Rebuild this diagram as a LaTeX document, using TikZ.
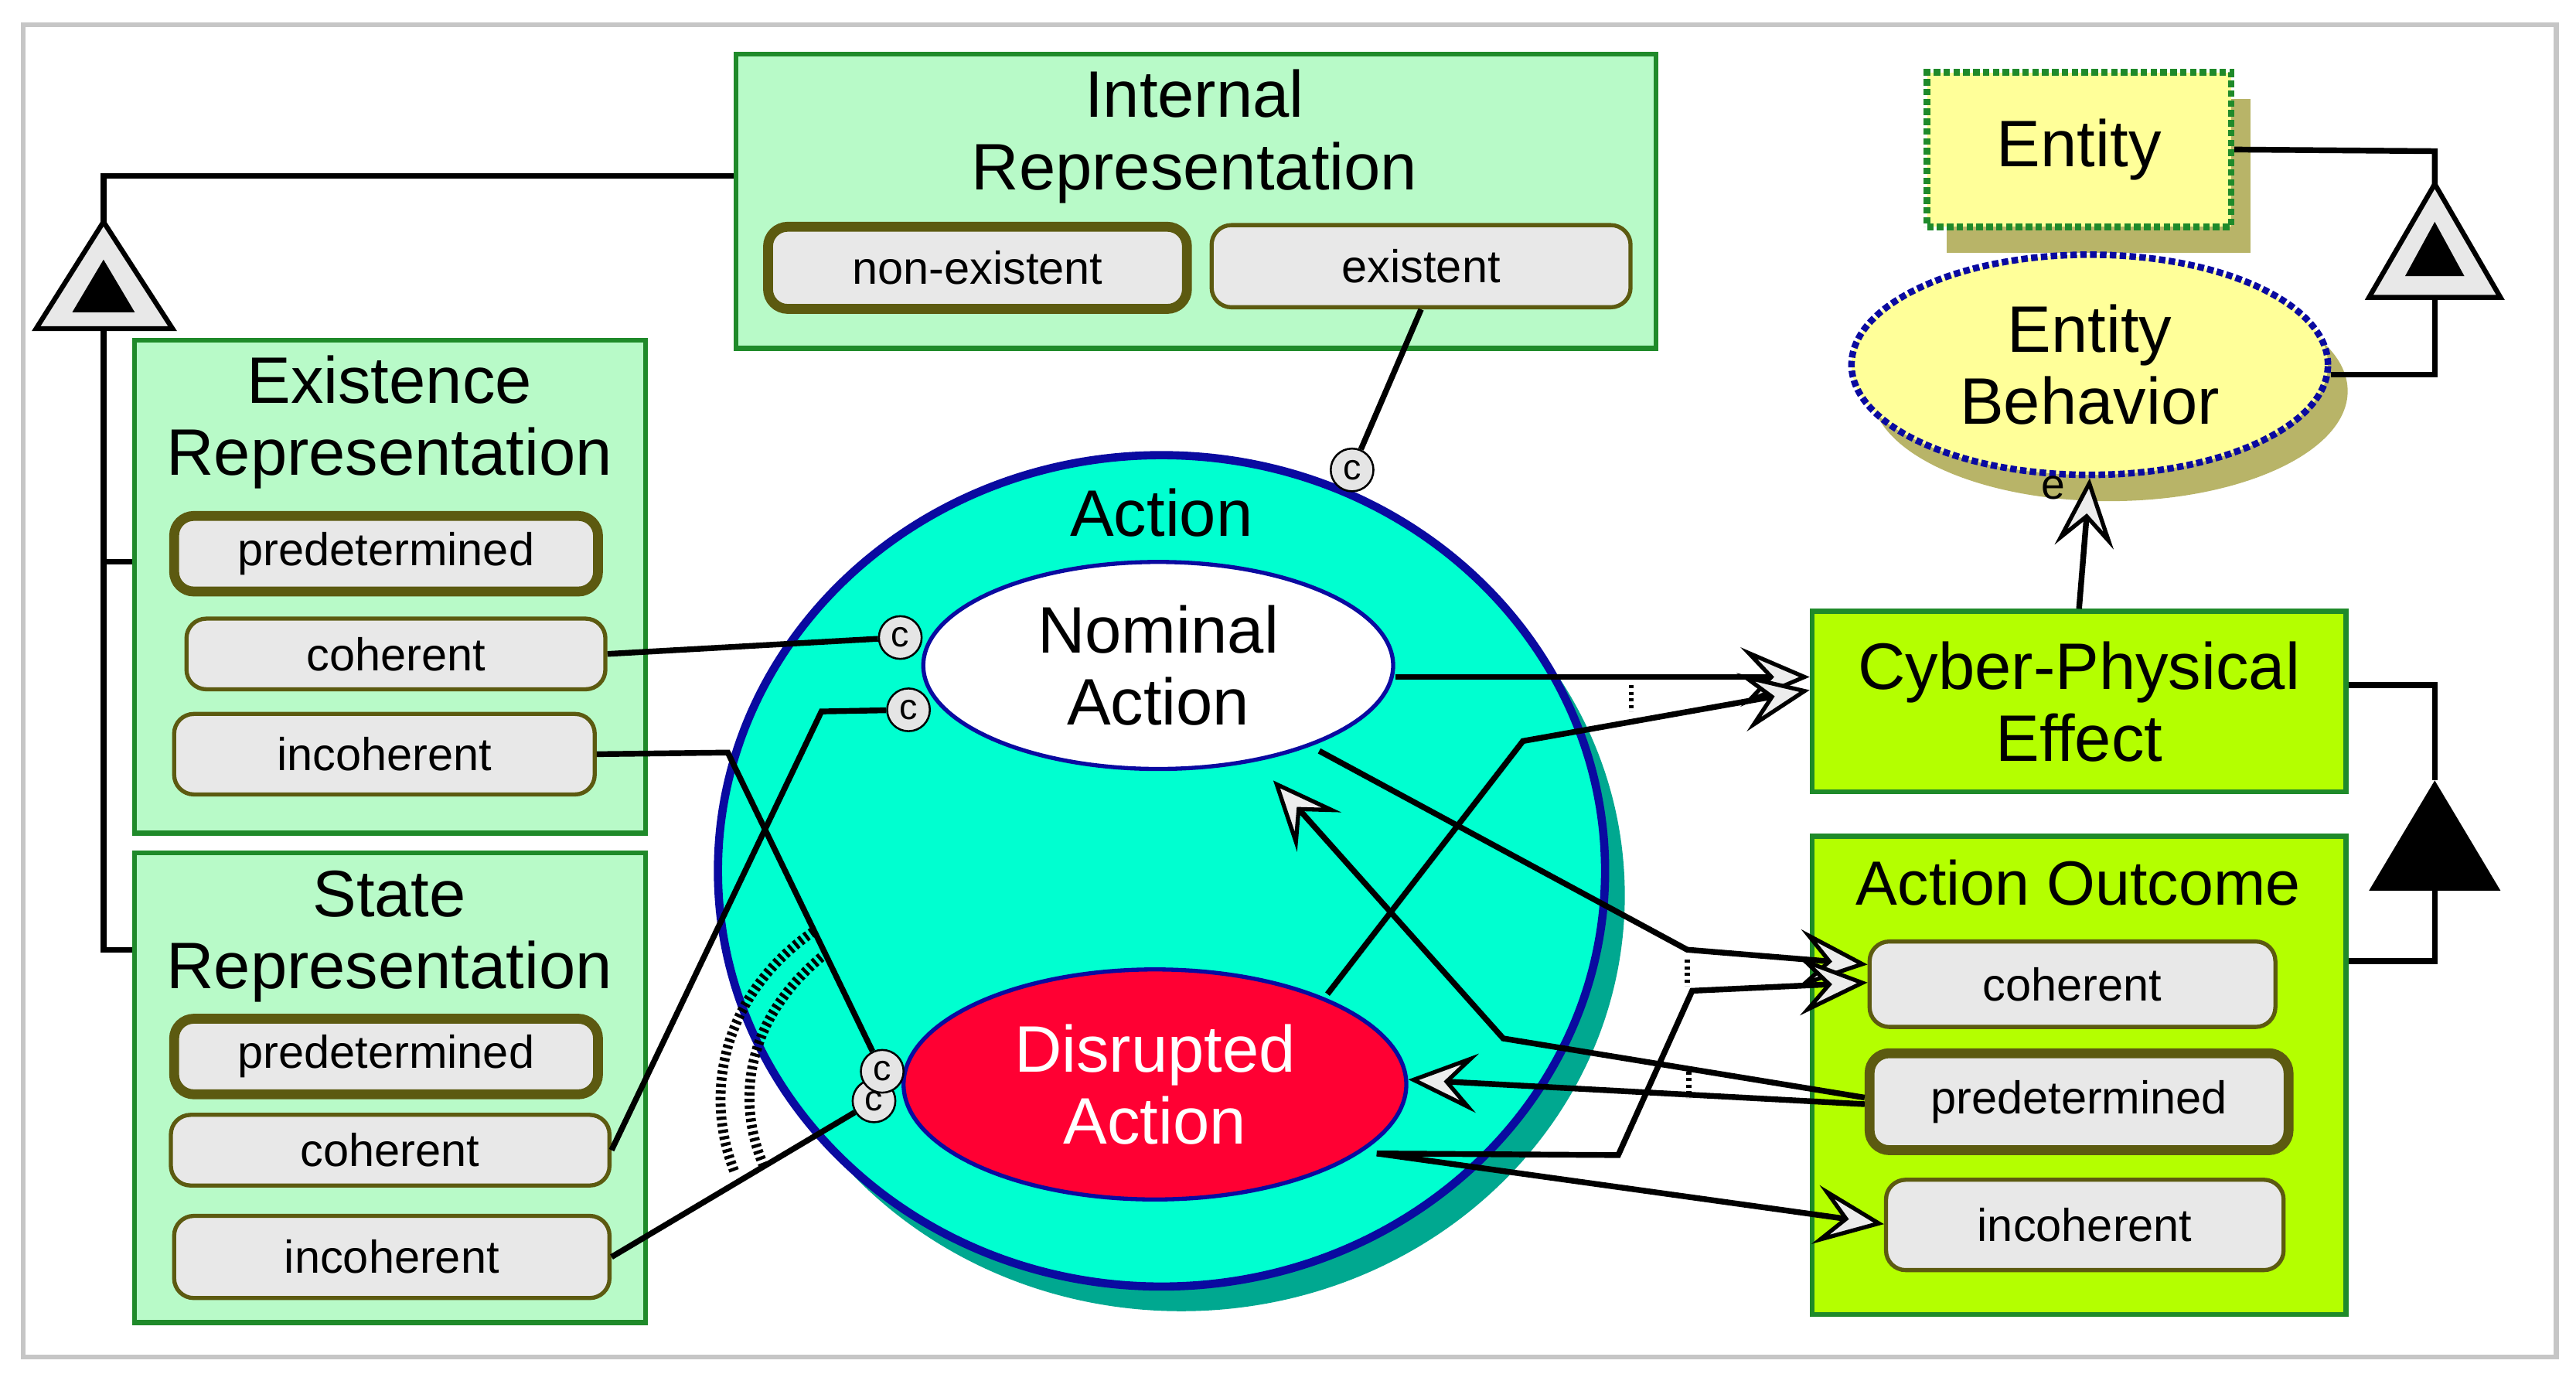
\documentclass[tikz,border=0pt]{standalone}
\usepackage{fontspec}
\setmainfont{Liberation Sans}
\usetikzlibrary{shapes,arrows.meta,calc,positioning}
\definecolor{boxgreen}{HTML}{B8FAC8}
\definecolor{lime}{HTML}{B4FF00}
\definecolor{dgreen}{HTML}{1F8A2A}
\definecolor{aqua}{HTML}{00FFD0}
\definecolor{teal2}{HTML}{00A890}
\definecolor{navy2}{HTML}{0A0AA0}
\definecolor{redact}{HTML}{FF0033}
\definecolor{pale}{HTML}{FFFF99}
\definecolor{olive2}{HTML}{B8B468}
\definecolor{pillbd}{HTML}{5C5A10}
\tikzset{
  box/.style={draw=dgreen, line width=3pt, fill=boxgreen, inner sep=0pt},
  title/.style={font=\fontsize{40}{44}\selectfont, align=center},
  pill/.style={draw=pillbd, line width=2.5pt, fill=gray!18, rounded corners=12pt,
    font=\fontsize{28}{30}\selectfont, inner sep=0pt},
  thick pill/.style={pill, line width=6pt},
  cc/.style={circle, draw=black, line width=1.2pt, fill=gray!20, inner sep=0pt,
    minimum size=26pt, font=\fontsize{22}{22}\selectfont},
  link/.style={line width=3.5pt},
  arr/.style={line width=3.5pt, -{Stealth[length=42pt,width=36pt,inset=17pt,fill=gray!15,line width=2.5pt]}},
  tri/.style={draw=black, line width=3pt, fill=gray!18},
}
\begin{document}
\begin{tikzpicture}[x=1pt,y=-1pt]
\useasboundingbox (0,0) rectangle (1568,836);
\draw[gray!45, line width=3pt] (14,15) rectangle (1556,826);

% representation boxes
\node[box, minimum width=560pt, minimum height=179pt] (intrep) at (728,122.5) {};
\node[title] at (727,83) {Internal\\Representation};
\node[thick pill, minimum width=255pt, minimum height=50pt] (nonex) at (595,163) {non-existent};
\node[pill, minimum width=255pt, minimum height=50pt] (exist) at (865,162) {existent};

\node[box, minimum width=311pt, minimum height=300pt] (exrep) at (237.5,357) {};
\node[title] at (237,257) {Existence\\Representation};
\node[thick pill, minimum width=258pt, minimum height=46pt] (expre) at (235,337) {predetermined};
\node[pill, minimum width=255pt, minimum height=43pt] (excoh) at (241,398) {coherent};
\node[pill, minimum width=256pt, minimum height=49pt] (exinc) at (234,459) {incoherent};

\node[box, minimum width=311pt, minimum height=286pt] (strep) at (237.5,662) {};
\node[title] at (237,570) {State\\Representation};
\node[thick pill, minimum width=258pt, minimum height=46pt] (stpre) at (235,643) {predetermined};
\node[pill, minimum width=267pt, minimum height=43pt] (stcoh) at (237.5,700) {coherent};
\node[pill, minimum width=265pt, minimum height=50pt] (stinc) at (238.5,765) {incoherent};

% left generalization
\coordinate (ltop) at (63,135);
\coordinate (lbase) at (63,200);
\draw[tri] (ltop) -- (105,200) -- (22,200) -- cycle;
\fill (63,158) -- (82,190) -- (44,190) -- cycle;
\draw[link] (intrep.west |- 0,107) -- (63,107) -- (ltop);
\draw[link] (lbase) -- (63,578) -- (strep.west |- 0,578);
\draw[link] (63,342) -- (exrep.west |- 0,342);

% action
\fill[teal2] (719,545) ellipse (270pt and 253pt);
\draw[navy2, line width=5pt, fill=aqua] (707,530) ellipse (270pt and 253pt);
\coordinate (action) at (707,530);
\node[title] at (707,312) {Action};
\node[ellipse, draw=navy2, line width=2.5pt, fill=white, minimum width=286pt,
  minimum height=126pt, title] (nominal) at (705,405) {Nominal\\Action};
\node[ellipse, draw=navy2, line width=2.5pt, fill=redact, text=white, minimum width=306pt,
  minimum height=140pt, title] (disrupt) at (703,660) {Disrupted\\Action};

% effect and outcome
\node[box, fill=lime, minimum width=325pt, minimum height=110pt, title] (cpe) at (1265.5,427) {Cyber-Physical\\Effect};
\node[box, fill=lime, minimum width=325pt, minimum height=291pt] (outc) at (1265.5,654.5) {};
\node[title, font=\fontsize{38}{42}\selectfont] at (1265,537) {Action Outcome};
\node[pill, minimum width=247pt, minimum height=52pt] (occoh) at (1261.5,599) {coherent};
\node[thick pill, minimum width=255pt, minimum height=59pt] (ocpre) at (1265.5,670.5) {predetermined};
\node[pill, minimum width=242pt, minimum height=55pt] (ocinc) at (1269,745.5) {incoherent};

% entity
\fill[olive2] (1185,60) rectangle (1370,154);
\node[draw=dgreen, dotted, line width=4pt, fill=pale, minimum width=185pt, minimum height=94pt,
  title] (entity) at (1265.5,91) {Entity};
\fill[olive2] (1284,238) ellipse (145pt and 67pt);
\node[ellipse, draw=navy2, dotted, line width=4pt, fill=pale, minimum width=290pt,
  minimum height=134pt, title] (behav) at (1272,222) {Entity\\Behavior};
\coordinate (rtop) at (1482,112);
\coordinate (rbase) at (1482,181);
\draw[tri] (rtop) -- (1522,181) -- (1442,181) -- cycle;
\fill (1482,135) -- (1500,168) -- (1464,168) -- cycle;
\draw[link] (entity.east) -- (1482,92) -- (rtop);
\draw[link] (rbase) -- (1482,228) -- (behav.east |- 0,228);
\coordinate (rtop2) at (1482,475);
\coordinate (rbase2) at (1482,542);
\fill (rtop2) -- (1522,542) -- (1442,542) -- cycle;
\draw[link] (cpe.east |- 0,417) -- (1482,417) -- (rtop2);
\draw[link] (rbase2) -- (1482,585) -- (outc.east |- 0,585);
\draw[arr] (cpe.north) -- (behav.south);
\node[font=\fontsize{26}{26}\selectfont] at (1250,297) {e};

% constraints
\node[cc] (c1) at (823,286) {c};
\node[cc] (c2) at (548,388) {c};
\node[cc] (c3) at (553,432) {c};
\node[cc] (c5) at (532,670) {c};
\node[cc] (c4) at (537,652) {c};
\draw[link] (exist.south) -- (c1);
\draw[link] (excoh.east) -- (c2);
\draw[link] (stcoh.east) -- (500,433) -- (c3);
\draw[link] (exinc.east) -- (443,458) -- (c4);
\draw[link] (stinc.east) -- (c5);
\draw[line width=6pt, dash pattern=on 2pt off 2pt] (495,567) .. controls (440,605) and (428,665) .. (447,713);
\draw[line width=6pt, dash pattern=on 2pt off 2pt] (503,580) .. controls (455,618) and (447,668) .. (465,710);

% flows
\draw[arr] (nominal.east |- 0,412) -- (cpe.west |- 0,412);
\draw[arr] (808,605) -- (927,451) -- (cpe.west |- 0,420);
\draw[arr] (803,457) -- (1027,578) -- (occoh.west |- 0,587);
\draw[arr] (838,702) -- (985,703) -- (1030,603) -- (occoh.west |- 0,598);
\draw[arr] (ocpre.west |- 0,668) -- (915,632) -- (775,475);
\draw[arr] (ocpre.west |- 0,672) -- (disrupt.east |- 0,657);
\draw[arr] (838,702) -- (ocinc.west |- 0,745);
\foreach \p in {(993,425),(1027,592),(1028,660)}
  \draw[line width=3pt, dash pattern=on 2pt off 2pt] \p ++(0,-8) -- ++(0,16);
\end{tikzpicture}
\end{document}
